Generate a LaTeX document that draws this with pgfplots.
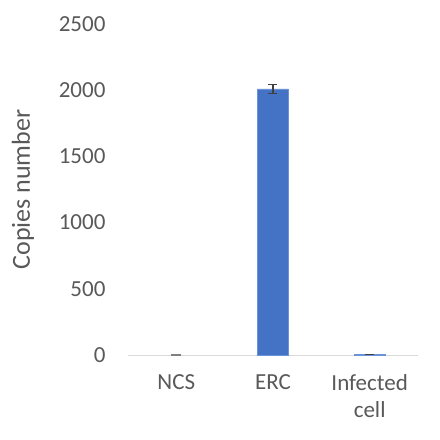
\documentclass[border=0pt]{standalone}
\usepackage{fontspec}
\setmainfont{Carlito}
\usepackage{pgfplots}
\pgfplotsset{compat=1.18}
\definecolor{excelblue}{HTML}{4472C4}
\definecolor{edgeblue}{HTML}{6A93D8}
\definecolor{txtgray}{HTML}{595959}
\definecolor{axgray}{HTML}{D9D9D9}
\definecolor{errgray}{HTML}{404040}
\begin{document}
\begin{tikzpicture}
\path[use as bounding box] (0,0) rectangle (440pt,440pt);
\begin{axis}[
  at={(128pt,85pt)}, anchor=south west,
  scale only axis, width=290pt, height=331pt,
  xmin=-0.5, xmax=2.5, ymin=0, ymax=2500,
  ytick={0,500,1000,1500,2000,2500},
  xtick={0,1,2},
  xticklabels={NCS,ERC,{Infected\\cell}},
  x tick label style={align=center, font=\fontsize{23}{27}\selectfont, text=txtgray, yshift=-16pt},
  y tick label style={font=\fontsize{23}{27}\selectfont, text=txtgray, xshift=-19pt},
  /pgf/number format/assume math mode=true,
  /pgf/number format/1000 sep={},
  axis x line=bottom, axis y line=left,
  x axis line style={draw=axgray, line width=1pt, -},
  y axis line style={draw=none},
  major tick length=0pt,
  ylabel={Copies number},
  ylabel style={font=\fontsize{26}{30}\selectfont, text=txtgray, at={(rel axis cs:0,0.5)}, anchor=center, yshift=105pt},
  clip=false,
]
\addplot[ybar, bar width=31pt, fill=excelblue, draw=edgeblue,
  error bars/.cd, y dir=both, y explicit,
  error bar style={errgray, line width=1.2pt},
  error mark options={rotate=90, mark size=4.5pt, line width=1.2pt, errgray}]
  coordinates {
  (1,2010) +- (0,35)
  (2,4) +- (0,2.5)
};
\addplot[draw=none, mark=none,
  error bars/.cd, y dir=both, y explicit,
  error bar style={gray, line width=1pt},
  error mark options={rotate=90, mark size=5pt, line width=1pt, gray}]
  coordinates {
  (0,0) +- (0,0.3)
};
\end{axis}
\end{tikzpicture}
\end{document}
